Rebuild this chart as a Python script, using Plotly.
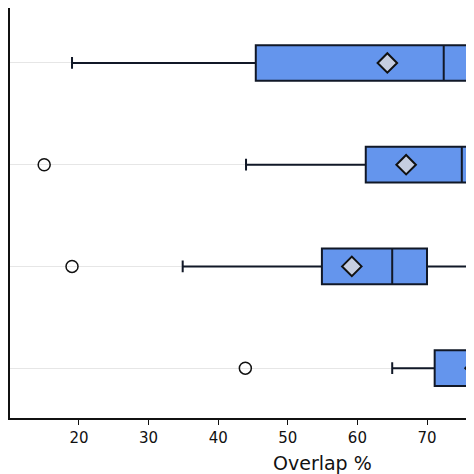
import plotly.graph_objects as go

rows = [0, 1, 2, 3]
lower = [19.0, 44.0, 34.9, 65.0]
q1 = [45.4, 61.2, 54.9, 71.1]
median = [72.4, 75.0, 65.0, 80.0]
q3 = [86.0, 83.0, 70.0, 86.0]
upper = [100.0, 96.0, 84.0, 96.0]
means = [64.3, 67.0, 59.2, 76.9]
outlier_x = [15.0, 19.0, 43.9]
outlier_y = [1, 2, 3]

fig = go.Figure()
for i, r in enumerate(rows):
    fig.add_trace(go.Box(
        y=[r], q1=[q1[i]], median=[median[i]], q3=[q3[i]],
        lowerfence=[lower[i]], upperfence=[upper[i]],
        orientation="h", width=0.35, whiskerwidth=0.33,
        fillcolor="#6495ED", line=dict(color="#111827", width=2),
        boxpoints=False, showlegend=False, hoverinfo="skip"))
fig.add_trace(go.Scatter(
    x=means, y=rows, mode="markers", showlegend=False, cliponaxis=True,
    marker=dict(symbol="diamond", size=15, color="#c5cde0",
                line=dict(color="#111", width=2))))
fig.add_trace(go.Scatter(
    x=outlier_x, y=outlier_y, mode="markers", showlegend=False,
    marker=dict(symbol="circle-open", size=12, color="#111",
                line=dict(width=1.5))))

fig.update_layout(
    width=474, height=474, margin=dict(l=2, r=0, t=0, b=64, autoexpand=False),
    plot_bgcolor="white", paper_bgcolor="white",
    font=dict(family="DejaVu Sans", color="#111", size=15),
    xaxis=dict(range=[10.09, 77.9], tickvals=[10, 20, 30, 40, 50, 60, 70],
               showgrid=False, zeroline=False, showline=True, automargin=False,
               linecolor="#111", linewidth=2, ticks="outside",
               ticklen=5, tickcolor="#111"),
    yaxis=dict(range=[3.49, -0.54], showticklabels=False, tickvals=rows,
               showgrid=True, gridcolor="#e6e6e6", gridwidth=1, automargin=False,
               zeroline=False, showline=True, linecolor="#111",
               linewidth=3, ticks=""),
    annotations=[dict(text="Overlap %", x=55, xref="x", y=0,
                      yref="paper", yshift=-32, yanchor="top",
                      showarrow=False, font=dict(size=19))],
)
fig.write_html("out.html")
